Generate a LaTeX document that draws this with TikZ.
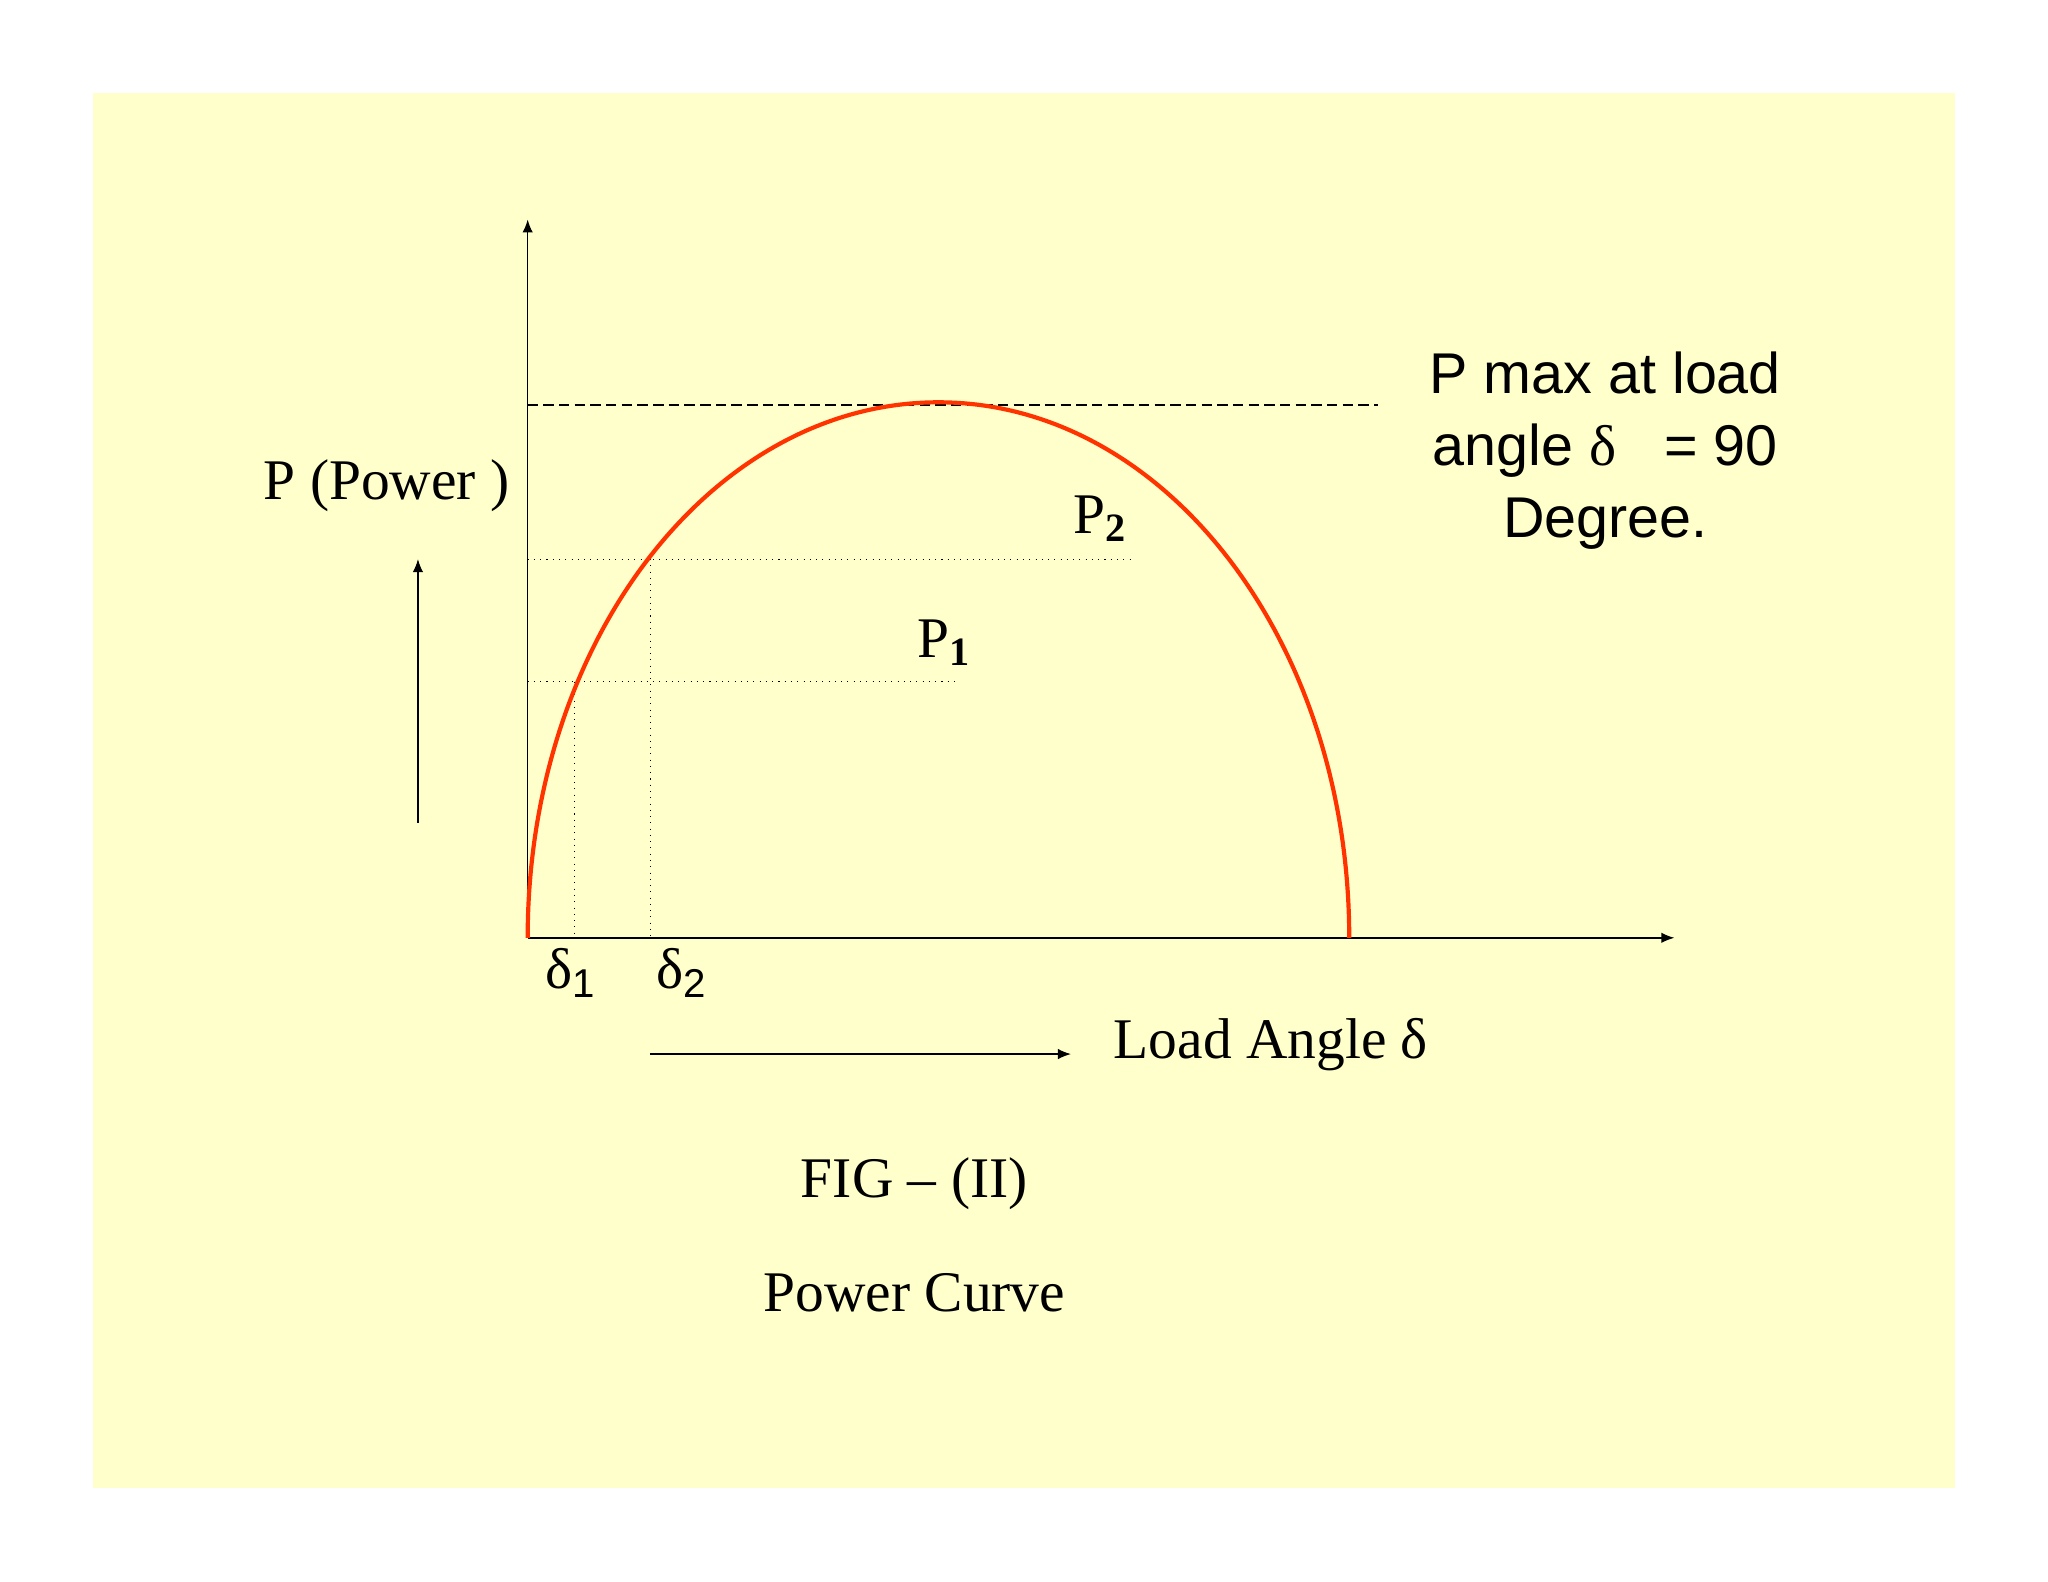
\documentclass[tikz,border=0pt]{standalone}
\usepackage{fontspec}
\setmainfont{Liberation Serif}
\setsansfont{Liberation Sans}
\begin{document}
\begin{tikzpicture}[x=0.5pt,y=0.5pt,
  lbl/.style={inner sep=0pt,font=\fontsize{22}{26}\selectfont},
  slbl/.style={inner sep=0pt,font=\sffamily\fontsize{22}{27.5}\selectfont,align=center},
  ax/.style={line width=0.6pt,-{Latex[length=5pt,width=4pt]}},
  guide/.style={line width=0.4pt,dotted}]
\usetikzlibrary{arrows.meta}
\useasboundingbox (0,0) rectangle (1568,-1211);
\fill[fill={rgb,255:red,255;green,255;blue,204}] (71,-71) rectangle (1497,-1139);
\coordinate (O) at (404,-718);
\coordinate (ytop) at (404,-168);
\coordinate (xend) at (1282,-718);
\draw[ax] (O) -- (ytop);
\draw[ax] (O) -- (xend);
\coordinate (pm0) at (404,-310); \coordinate (pm1) at (1055,-310);
\draw[dashed,line width=0.5pt,dash pattern=on 4pt off 2pt] (pm0) -- (pm1);
\coordinate (a0) at (404,-428); \coordinate (a1) at (865,-428);
\coordinate (b0) at (404,-522); \coordinate (b1) at (735,-522);
\coordinate (c0) at (440,-522); \coordinate (c1) at (440,-718);
\coordinate (d0) at (498,-428); \coordinate (d1) at (498,-718);
\draw[guide] (a0)--(a1); \draw[guide] (b0)--(b1);
\draw[guide] (c0)--(c1); \draw[guide] (d0)--(d1);
\draw[line width=1.6pt,color={rgb,255:red,255;green,51;blue,0}] (404,-718) arc[start angle=180,end angle=0,x radius=314.5,y radius=410];
\node[lbl] (pp) at (296,-372) {P (Power )};
\node[lbl] (p2) at (842,-397) {P\textsubscript{\textbf{2}}};
\node[lbl] (p1) at (723,-492) {P\textsubscript{\textbf{1}}};
\node[lbl] (d1l) at (437,-745) {δ\textsubscript{\sffamily 1}};
\node[lbl] (d2l) at (522,-745) {δ\textsubscript{\sffamily 2}};
\node[lbl] (la) at (973,-800) {Load Angle δ};
\coordinate (r0) at (498,-807); \coordinate (r1) at (820,-807);
\draw[ax] (r0) -- (r1);
\coordinate (u0) at (320,-630); \coordinate (u1) at (320,-428);
\draw[ax] (u0) -- (u1);
\node[slbl] (pmax) at (1229,-345) {P max at load\\angle {\rmfamily δ} \ \ = 90\\Degree.};
\node[lbl] (fig) at (700,-906) {FIG – (II)};
\node[lbl] (pc) at (700,-990) {Power Curve};
\end{tikzpicture}
\end{document}
